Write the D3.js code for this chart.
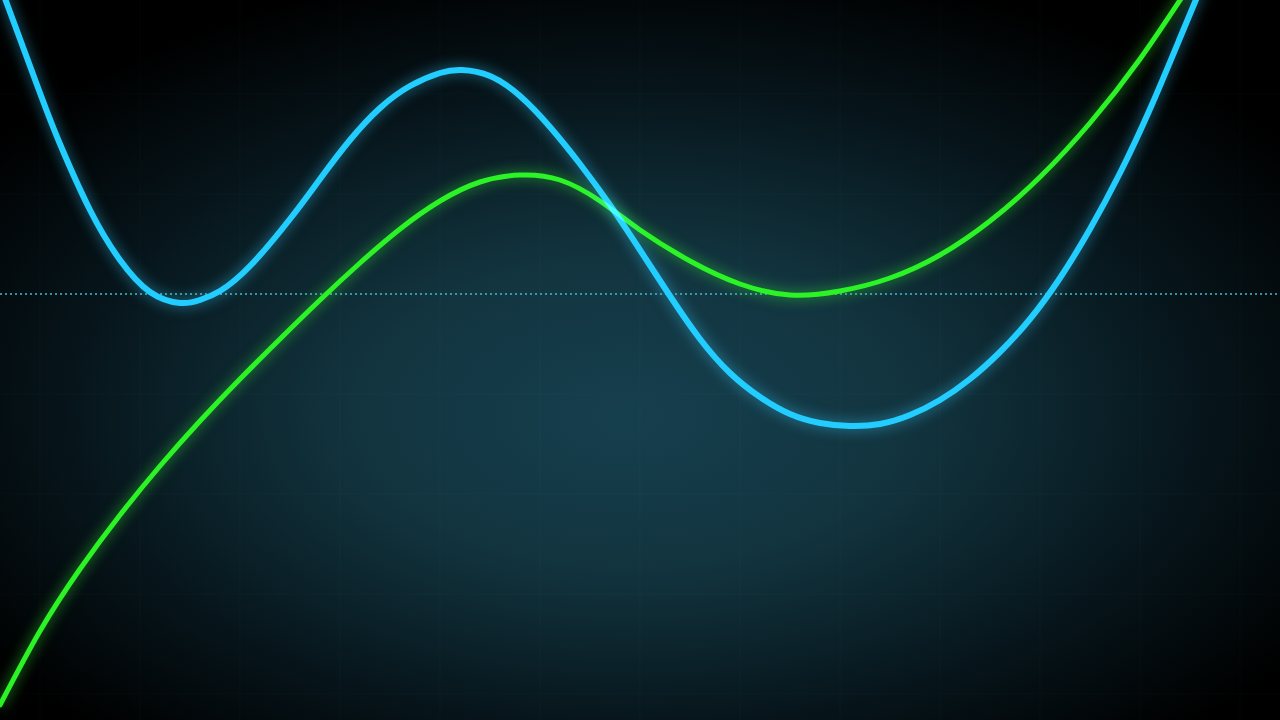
<!DOCTYPE html>
<html>
<head>
<meta charset="utf-8">
<script src="https://cdn.jsdelivr.net/npm/d3@7"></script>
<style>
  html, body { margin: 0; padding: 0; background: #000; overflow: hidden; }
  svg { display: block; }
</style>
</head>
<body>
<svg id="chart" width="1280" height="720"></svg>
<script>
// Data (x in abstract units, y in abstract units; y = 0 is the dotted baseline)
const blueX = [-6.40, -6.00, -5.80, -5.50, -5.20, -4.90, -4.60, -4.40, -4.20, -3.90, -3.50, -3.20, -2.90, -2.60, -2.30, -2.00, -1.78, -1.50, -1.20, -0.90, -0.60, -0.30, 0.00, 0.30, 0.60, 0.90, 1.20, 1.50, 1.80, 2.10, 2.40, 2.70, 3.00, 3.30, 3.60, 3.90, 4.20, 4.50, 4.80, 5.10, 5.40, 5.60];
const blueY = [3.09, 2.01, 1.50, 0.84, 0.34, 0.02, -0.09, -0.06, 0.03, 0.28, 0.75, 1.15, 1.54, 1.86, 2.08, 2.21, 2.24, 2.18, 1.98, 1.67, 1.30, 0.89, 0.44, -0.02, -0.45, -0.79, -1.03, -1.20, -1.29, -1.32, -1.30, -1.21, -1.06, -0.85, -0.58, -0.25, 0.16, 0.65, 1.21, 1.85, 2.56, 3.04];

const greenX = [-6.40, -6.00, -5.60, -5.20, -4.80, -4.40, -4.00, -3.60, -3.20, -2.80, -2.40, -2.00, -1.60, -1.20, -0.80, -0.40, 0.00, 0.50, 1.00, 1.50, 2.00, 2.50, 3.00, 3.50, 4.00, 4.50, 5.00, 5.50];
const greenY = [-4.11, -3.37, -2.75, -2.21, -1.72, -1.27, -0.85, -0.45, -0.06, 0.31, 0.65, 0.93, 1.12, 1.19, 1.14, 0.93, 0.64, 0.33, 0.10, -0.01, 0.03, 0.16, 0.39, 0.73, 1.17, 1.71, 2.35, 3.09];

const baselineY = [0];

const W = 1280, H = 720;
const svg = d3.select("#chart");

const x = d3.scaleLinear().domain([-6.4, 6.4]).range([0, W]);
const y = d3.scaleLinear().domain([-4.26, 2.94]).range([H, 0]);

const defs = svg.append("defs");
const bg = defs.append("radialGradient")
  .attr("id", "bg").attr("cx", "50%").attr("cy", "56%").attr("r", "62%")
  .attr("fx", "49%").attr("fy", "58%");
bg.append("stop").attr("offset", "0%").attr("stop-color", "#163f4e");
bg.append("stop").attr("offset", "35%").attr("stop-color", "#12343f");
bg.append("stop").attr("offset", "70%").attr("stop-color", "#07161c");
bg.append("stop").attr("offset", "100%").attr("stop-color", "#000000");

const glow = defs.append("filter").attr("id", "glow")
  .attr("x", "-20%").attr("y", "-20%").attr("width", "140%").attr("height", "140%");
glow.append("feGaussianBlur").attr("stdDeviation", 6);

svg.append("rect").attr("width", W).attr("height", H).attr("fill", "url(#bg)");

// faint grid
const gridG = svg.append("g").attr("opacity", 0.02);
gridG.selectAll("line.v").data(d3.range(-6, 7, 1)).join("line")
  .attr("x1", d => x(d)).attr("x2", d => x(d)).attr("y1", 0).attr("y2", H)
  .attr("stroke", "#8fe6ff").attr("stroke-width", 1);
gridG.selectAll("line.h").data(d3.range(-4, 3, 1)).join("line")
  .attr("y1", d => y(d)).attr("y2", d => y(d)).attr("x1", 0).attr("x2", W)
  .attr("stroke", "#8fe6ff").attr("stroke-width", 1);

// dotted baseline
svg.selectAll("line.base").data(baselineY).join("line")
  .attr("class", "base")
  .attr("x1", 0).attr("x2", W)
  .attr("y1", d => y(d)).attr("y2", d => y(d))
  .attr("stroke", "#3aaab8").attr("stroke-width", 2)
  .attr("stroke-dasharray", "2,3").attr("opacity", 0.85);

const line = d3.line()
  .x(d => x(d[0])).y(d => y(d[1]))
  .curve(d3.curveNatural);

const greenData = d3.zip(greenX, greenY);
const blueData = d3.zip(blueX, blueY);

const series = [
  { data: greenData, color: "#22f01c", glow: "#30ff30", width: 5 },
  { data: blueData, color: "#18c2ff", glow: "#35d0ff", width: 6 }
];

const gLines = svg.append("g").style("isolation", "isolate");
series.forEach(s => {
  gLines.append("path")
    .attr("d", line(s.data))
    .attr("fill", "none")
    .attr("stroke", s.glow)
    .attr("stroke-width", s.width + 6)
    .attr("opacity", 0.3)
    .attr("filter", "url(#glow)")
    .style("mix-blend-mode", "screen");
});
series.forEach(s => {
  gLines.append("path")
    .attr("d", line(s.data))
    .attr("fill", "none")
    .attr("stroke", s.color)
    .attr("stroke-width", s.width)
    .attr("stroke-linecap", "round")
    .style("mix-blend-mode", "screen");
});
</script>
</body>
</html>
